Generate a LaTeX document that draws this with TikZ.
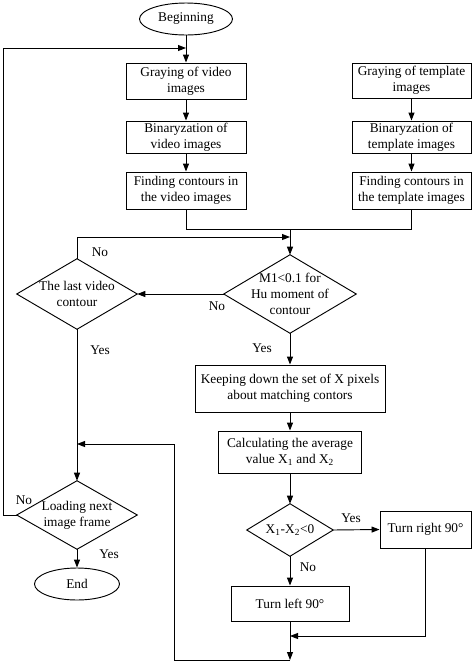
\documentclass[tikz,border=0pt]{standalone}
\usepackage{fontspec}
\setmainfont{Liberation Serif}
\usetikzlibrary{arrows.meta,shapes.geometric}
\begin{document}
\begin{tikzpicture}[x=0.75pt,y=-0.75pt,
  every node/.style={font=\fontsize{10}{12}\selectfont},
  box/.style={draw, line width=0.7pt, rectangle, align=center, inner sep=1pt},
  term/.style={draw, line width=0.7pt, ellipse, inner sep=0pt},
  dec/.style={rectangle, align=center, inner sep=0pt},
  lab/.style={inner sep=0pt},
  conn/.style={line width=0.7pt},
  arr/.style={conn, -{Triangle[length=6pt,width=4.5pt]}}]
\useasboundingbox (0,0) rectangle (474,665);

% nodes
\node[term, minimum width=69.75pt, minimum height=24pt] (begin) at (186,19) {Beginning};
\node[box, minimum width=90pt, minimum height=27pt] (g1) at (186,81) {Graying of video\\images};
\node[box, minimum width=90pt, minimum height=24pt] (b1) at (186,137) {Binaryzation of\\video images};
\node[box, minimum width=90pt, minimum height=27.75pt] (f1) at (186,190.5) {Finding contours in\\the video images};
\node[box, minimum width=89.25pt, minimum height=26.25pt] (g2) at (411.5,80.5) {Graying of template\\images};
\node[box, minimum width=89.25pt, minimum height=24pt] (b2) at (411.5,137) {Binaryzation of\\template images};
\node[box, minimum width=89.25pt, minimum height=27.75pt] (f2) at (411.5,190.5) {Finding contours in\\the template images};

\node[dec, minimum width=99pt, minimum height=58.5pt] (d1) at (290,294) {M1<0.1 for\\Hu moment of\\contour};
\draw[conn] (d1.north)--(d1.east)--(d1.south)--(d1.west)--cycle;
\node[dec, minimum width=90pt, minimum height=52.5pt] (d2) at (77,294) {The last video\\contour};
\draw[conn] (d2.north)--(d2.east)--(d2.south)--(d2.west)--cycle;

\node[box, minimum width=142.5pt, minimum height=35.25pt] (keep) at (290,388.5) {Keeping down the set of X pixels\\about matching contors};
\node[box, minimum width=107.25pt, minimum height=31.5pt] (calc) at (290,452) {Calculating the average\\value X\textsubscript{1} and X\textsubscript{2}};

\node[dec, minimum width=64.5pt, minimum height=39pt] (d3) at (290,530) {X\textsubscript{1}-X\textsubscript{2}<0};
\draw[conn] (d3.north)--(d3.east)--(d3.south)--(d3.west)--cycle;
\node[box, minimum width=68.25pt, minimum height=27.75pt] (tr) at (425.5,529.5) {Turn right 90°};
\node[box, minimum width=88.5pt, minimum height=26.25pt] (tl) at (290,603.5) {Turn left 90°};

\node[dec, minimum width=90pt, minimum height=51pt] (d4) at (77,515) {Loading next\\image frame};
\draw[conn] (d4.north)--(d4.east)--(d4.south)--(d4.west)--cycle;
\node[term, minimum width=63.75pt, minimum height=24pt] (end) at (77,584) {End};

% labels
\node[lab] (l1) at (100,252) {No};
\node[lab] (l2) at (217,306) {No};
\node[lab] (l3) at (100,350) {Yes};
\node[lab] (l4) at (262,348) {Yes};
\node[lab] (l5) at (24,500) {No};
\node[lab] (l6) at (109,554) {Yes};
\node[lab] (l7) at (351,518) {Yes};
\node[lab] (l8) at (308,567) {No};

% coordinates
\coordinate (m1) at (290,229);
\coordinate (m2) at (290,237);
\coordinate (m3) at (290,636);
\coordinate (m4) at (290,660);
\coordinate (c1) at (174,660);
\coordinate (c2) at (174,444);
\coordinate (m5) at (77,444);
\coordinate (c3) at (3,515);
\coordinate (c4) at (3,48);
\coordinate (m6) at (186,48);

% connectors
\draw[arr] (begin.south) -- (g1.north);
\draw[arr] (g1.south) -- (b1.north);
\draw[arr] (b1.south) -- (f1.north);
\draw[arr] (g2.south) -- (b2.north);
\draw[arr] (b2.south) -- (f2.north);
\draw[conn] (f1.south) |- (m1);
\draw[conn] (f2.south) |- (m1);
\draw[arr] (m1) -- (d1.north);
\draw[arr] (d2.north) |- (m2);
\draw[arr] (d1.west) -- (d2.east);
\draw[arr] (d1.south) -- (keep.north);
\draw[arr] (keep.south) -- (calc.north);
\draw[arr] (calc.south) -- (d3.north);
\draw[arr] (d3.east) -- (tr.west);
\draw[arr] (d3.south) -- (tl.north);
\draw[arr] (tr.south) |- (m3);
\draw[arr] (tl.south) -- (m4);
\draw[arr] (m4) -- (c1) -- (c2) -- (m5);
\draw[arr] (d2.south) -- (d4.north);
\draw[arr] (d4.west) -- (c3) -- (c4) -- (m6);
\draw[arr] (d4.south) -- (end.north);
\end{tikzpicture}
\end{document}
